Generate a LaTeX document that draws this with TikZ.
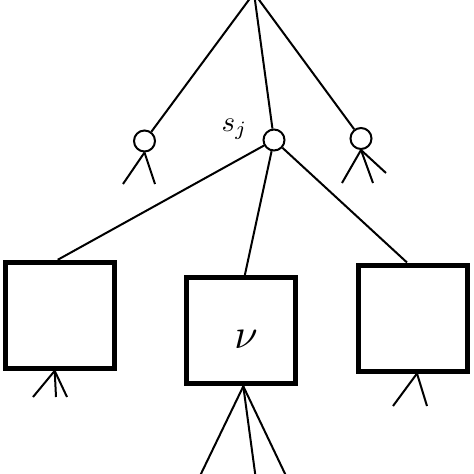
\documentclass[tikz,border=0pt]{standalone}

\begin{document}
\begin{tikzpicture}[x=1pt,y=-1pt,line width=2pt,
            leaf/.style={circle,draw,minimum size=21pt,inner sep=0pt,line width=2pt},
            vbox/.style={rectangle,draw,line width=5pt,minimum width=109pt,minimum height=106pt,inner sep=0pt}]
            \useasboundingbox (0,0) rectangle (474,474);
            \clip (0,0) rectangle (474,474);
            \coordinate (root) at (254,-7);
            \node[leaf] (a) at (144.5,141) {};
            \node[leaf] (sj) at (274,140) {};
            \node[leaf] (c) at (361,138.5) {};
            \node[inner sep=0pt] (sjlabel) at (234.5,129.5) {\scalebox{2.9}{$s_j$}};
            \node[vbox] (left) at (59.7,315.3) {};
            \node[vbox] (mid) at (240.8,330.8) {};
            \node[vbox] (right) at (413,318) {};
            \node[inner sep=0pt] (nu) at (246,339) {\scalebox{4.2}{$\nu$}};
            \coordinate (a1) at (123,184);
            \coordinate (a2) at (155,184);
            \coordinate (c1) at (342,183);
            \coordinate (c2) at (373,183);
            \coordinate (c3) at (386,173);
            \coordinate (l1) at (33,397);
            \coordinate (l2) at (56,397);
            \coordinate (l3) at (67,397);
            \coordinate (m1) at (198,480);
            \coordinate (m2) at (256,480);
            \coordinate (m3) at (288,480);
            \coordinate (r1) at (393,406);
            \coordinate (r2) at (427,406);
            \draw (root) -- (a);
            \draw (root) -- (sj);
            \draw (root) -- (c);
            \draw (sj) -- ([xshift=-2pt]left.north);
            \draw (sj) -- ([xshift=4pt]mid.north);
            \draw (sj) -- ([xshift=-6pt]right.north);
            \foreach \p in {a1,a2} \draw (a.south) -- (\p);
            \foreach \p in {c1,c2,c3} \draw (c.south) -- (\p);
            \foreach \p in {l1,l2,l3} \draw ([xshift=-5pt]left.south) -- (\p);
            \foreach \p in {m1,m2,m3} \draw ([xshift=2.5pt]mid.south) -- (\p);
            \foreach \p in {r1,r2} \draw ([xshift=4pt]right.south) -- (\p);
        \end{tikzpicture}
\end{document}
